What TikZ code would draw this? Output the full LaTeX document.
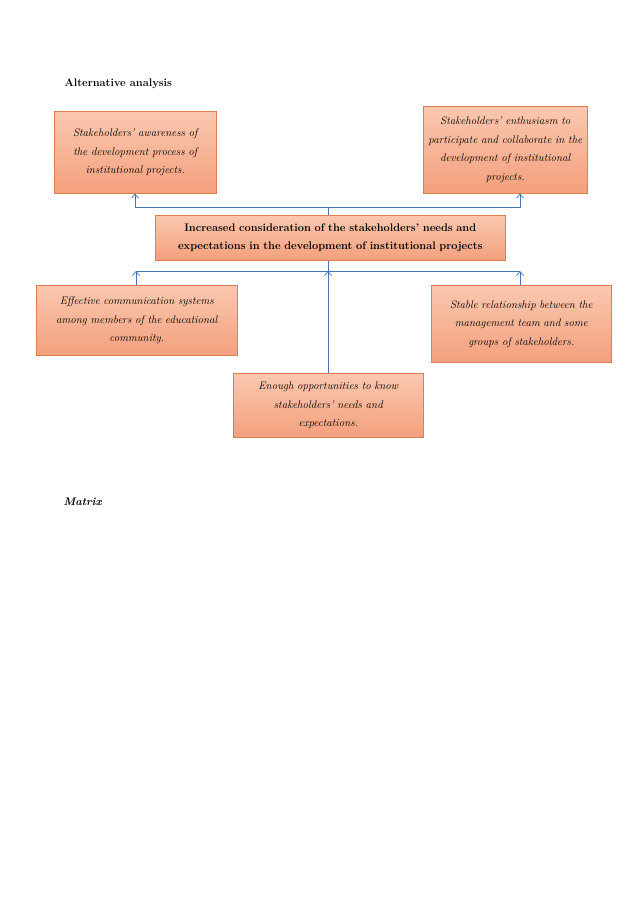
\documentclass[tikz,border=0pt]{standalone}
\usetikzlibrary{arrows.meta}
\definecolor{ftop}{RGB}{250,200,175}
\definecolor{fbot}{RGB}{244,160,125}
\definecolor{bord}{RGB}{222,125,80}
\definecolor{lnc}{RGB}{75,115,180}
\begin{document}
\begin{tikzpicture}[x=1pt,y=-1pt,
  bx/.style={draw=bord, line width=0.6pt, top color=ftop, bottom color=fbot, align=center, font=\itshape\fontsize{11}{18.5}\selectfont, inner sep=2pt},
  cn/.style={draw=lnc, line width=0.7pt},
  ar/.style={cn, -{Straight Barb[length=4pt,width=7pt]}}]
\useasboundingbox (0,0) rectangle (638,903);
\node[bx, minimum width=162pt, minimum height=82pt, anchor=north west, text width=158pt] (a) at (54,111) {Stakeholders' awareness of\\the development process of\\institutional projects.\\[2.2ex]};
\node[bx, minimum width=163pt, minimum height=87pt, anchor=north west, text width=160pt] (b) at (423,106) {Stakeholders' enthusiasm to\\participate and collaborate in the\\development of institutional\\projects.};
\node[bx, minimum width=348pt, minimum height=45pt, anchor=north west, font=\bfseries\fontsize{11}{18}\selectfont, text width=346pt] (c) at (155,215) {Increased consideration of the stakeholders' needs and\\expectations in the development of institutional projects};
\node[bx, minimum width=200pt, minimum height=70pt, anchor=north west, text width=197pt] (d) at (36,285) {Effective communication systems\\among members of the educational\\community.};
\node[bx, minimum width=179pt, minimum height=77pt, anchor=north west, text width=176pt] (e) at (431,285) {Stable relationship between the\\management team and some\\groups of stakeholders.};
\node[bx, minimum width=190pt, minimum height=64pt, anchor=north west, text width=186pt] (f) at (233,373) {Enough opportunities to know\\stakeholders' needs and\\expectations.};
\node[anchor=west, font=\bfseries\fontsize{11}{13}\selectfont] (t1) at (61,84) {Alternative analysis};
\node[anchor=west, font=\bfseries\itshape\fontsize{11}{13}\selectfont] (t2) at (60,502) {Matrix};
\coordinate (ct) at (328,207);
\coordinate (cb) at (328,271);
\draw[cn] (c.north -| ct) -- (ct);
\draw[ar] (ct) -| (a.south -| 135,0);
\draw[ar] (ct) -| (b.south -| 520,0);
\draw[cn] (c.south -| cb) -- (cb);
\draw[cn] (136,271) -- (520,271);
\draw[ar] (d.north -| 136,0) -- (136,271);
\draw[ar] (e.north -| 520,0) -- (520,271);
\draw[ar] (f.north -| cb) -- (cb);
\end{tikzpicture}
\end{document}
